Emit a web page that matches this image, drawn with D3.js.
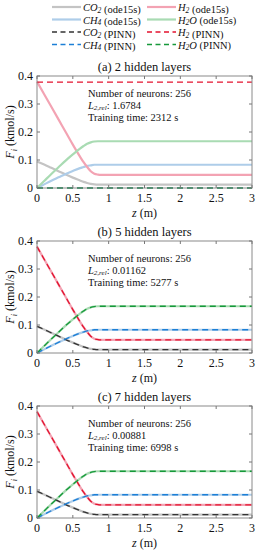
<!DOCTYPE html>
<html>
<head>
<meta charset="utf-8">
<script src="https://cdn.jsdelivr.net/npm/d3@7"></script>
<style>
  body { margin: 0; background: #fff; }
  svg text { font-family: "Liberation Serif", "DejaVu Serif", serif; fill: #111; }
</style>
</head>
<body>
<svg id="chart" width="265" height="550"></svg>
<script>
// axial position (m)
var zVals = [0, 0.1, 0.2, 0.3, 0.4, 0.5, 0.6, 0.65, 0.7, 0.75, 0.8, 0.85, 0.9, 1.0, 1.5, 2, 2.5, 3];

// ode15s reference solution (kmol/s)
var co2Ode = [0.095, 0.084, 0.072, 0.060, 0.048, 0.037, 0.027, 0.022, 0.018, 0.015, 0.013, 0.012, 0.012, 0.012, 0.012, 0.012, 0.012, 0.012];
var ch4Ode = [0, 0.013, 0.026, 0.038, 0.050, 0.061, 0.071, 0.075, 0.079, 0.081, 0.083, 0.083, 0.083, 0.083, 0.083, 0.083, 0.083, 0.083];
var h2Ode  = [0.380, 0.335, 0.290, 0.245, 0.200, 0.155, 0.112, 0.092, 0.075, 0.060, 0.051, 0.048, 0.047, 0.047, 0.047, 0.047, 0.047, 0.047];
var h2oOde = [0, 0.025, 0.050, 0.074, 0.098, 0.120, 0.141, 0.150, 0.158, 0.163, 0.166, 0.167, 0.167, 0.167, 0.167, 0.167, 0.167, 0.167];

// PINN, 2 hidden layers
var co2PinnA = [0.001, 0.001, 0.001, 0.001, 0.001, 0.001, 0.001, 0.001, 0.001, 0.001, 0.001, 0.001, 0.001, 0.001, 0.001, 0.001, 0.001, 0.001];
var ch4PinnA = [0, 0, 0, 0, 0, 0, 0, 0, 0, 0, 0, 0, 0, 0, 0, 0, 0, 0];
var h2PinnA  = [0.378, 0.378, 0.378, 0.378, 0.378, 0.378, 0.378, 0.378, 0.378, 0.378, 0.378, 0.378, 0.378, 0.378, 0.378, 0.378, 0.378, 0.378];
var h2oPinnA = [0, 0, 0, 0, 0, 0, 0, 0, 0, 0, 0, 0, 0, 0, 0, 0, 0, 0];

// PINN, 5 hidden layers
var co2PinnB = [0.095, 0.084, 0.072, 0.060, 0.048, 0.037, 0.027, 0.022, 0.018, 0.015, 0.013, 0.012, 0.012, 0.012, 0.012, 0.012, 0.012, 0.012];
var ch4PinnB = [0, 0.013, 0.026, 0.038, 0.050, 0.061, 0.071, 0.075, 0.079, 0.081, 0.083, 0.083, 0.083, 0.083, 0.083, 0.083, 0.083, 0.083];
var h2PinnB  = [0.380, 0.335, 0.290, 0.245, 0.200, 0.155, 0.112, 0.092, 0.075, 0.060, 0.051, 0.048, 0.047, 0.047, 0.047, 0.047, 0.047, 0.047];
var h2oPinnB = [0, 0.025, 0.050, 0.074, 0.098, 0.120, 0.141, 0.150, 0.158, 0.163, 0.166, 0.167, 0.167, 0.167, 0.167, 0.167, 0.167, 0.167];

// PINN, 7 hidden layers
var co2PinnC = [0.095, 0.084, 0.072, 0.060, 0.048, 0.037, 0.027, 0.022, 0.018, 0.015, 0.013, 0.012, 0.012, 0.012, 0.012, 0.012, 0.012, 0.012];
var ch4PinnC = [0, 0.013, 0.026, 0.038, 0.050, 0.061, 0.071, 0.075, 0.079, 0.081, 0.083, 0.083, 0.083, 0.083, 0.083, 0.083, 0.083, 0.083];
var h2PinnC  = [0.380, 0.335, 0.290, 0.245, 0.200, 0.155, 0.112, 0.092, 0.075, 0.060, 0.051, 0.048, 0.047, 0.047, 0.047, 0.047, 0.047, 0.047];
var h2oPinnC = [0, 0.025, 0.050, 0.074, 0.098, 0.120, 0.141, 0.150, 0.158, 0.163, 0.166, 0.167, 0.167, 0.167, 0.167, 0.167, 0.167, 0.167];

var panelTitles = ["(a) 2 hidden layers", "(b) 5 hidden layers", "(c) 7 hidden layers"];
var l2Values = ["1.6784", "0.01162", "0.00881"];
var trainTimes = ["2312", "5277", "6998"];
var neurons = 256;

var xTicks = [0, 0.5, 1, 1.5, 2, 2.5, 3];
var yTicks = [0, 0.1, 0.2, 0.3, 0.4];

var odeColors = { co2: "#c4c4c4", ch4: "#aecde9", h2: "#f3a3b3", h2o: "#a9dbb3" };
var pinnColors = { co2: "#333333", ch4: "#1c7fd6", h2: "#e3122e", h2o: "#16993a" };

var svg = d3.select("#chart");

var left = 37, right = 252;
var panelTops = [76, 241, 406];
var plotH = 112;

var x = d3.scaleLinear().domain([0, 3]).range([left, right]);

var pinnSets = [
  { co2: co2PinnA, ch4: ch4PinnA, h2: h2PinnA, h2o: h2oPinnA },
  { co2: co2PinnB, ch4: ch4PinnB, h2: h2PinnB, h2o: h2oPinnB },
  { co2: co2PinnC, ch4: ch4PinnC, h2: h2PinnC, h2o: h2oPinnC }
];
var odeSet = { co2: co2Ode, ch4: ch4Ode, h2: h2Ode, h2o: h2oOde };
var order = ["co2", "ch4", "h2", "h2o"];

panelTops.forEach(function (top, p) {
  var y = d3.scaleLinear().domain([0, 0.4]).range([top + plotH, top]);
  var g = svg.append("g");

  var line = d3.line()
    .x(function (d, i) { return x(zVals[i]); })
    .y(function (d) { return y(d); })
    .curve(d3.curveMonotoneX);

  // ode15s lines
  order.forEach(function (k) {
    g.append("path")
      .attr("d", line(odeSet[k]))
      .attr("fill", "none")
      .attr("stroke", odeColors[k])
      .attr("stroke-width", 2.2);
  });

  // PINN dashed lines
  order.forEach(function (k) {
    g.append("path")
      .attr("d", line(pinnSets[p][k]))
      .attr("fill", "none")
      .attr("stroke", pinnColors[k])
      .attr("stroke-width", 1.3)
      .attr("stroke-dasharray", "6,4");
  });

  // frame
  g.append("rect")
    .attr("x", left).attr("y", top)
    .attr("width", right - left).attr("height", plotH)
    .attr("fill", "none").attr("stroke", "#8a8a8a").attr("stroke-width", 1);

  // ticks inside on all sides
  xTicks.forEach(function (t) {
    g.append("line").attr("x1", x(t)).attr("x2", x(t))
      .attr("y1", top + plotH).attr("y2", top + plotH - 3)
      .attr("stroke", "#777");
    g.append("line").attr("x1", x(t)).attr("x2", x(t))
      .attr("y1", top).attr("y2", top + 3)
      .attr("stroke", "#777");
    g.append("text")
      .attr("x", x(t)).attr("y", top + plotH + 14)
      .attr("text-anchor", "middle")
      .attr("font-size", 12)
      .text(d3.format("~g")(t));
  });
  yTicks.forEach(function (t) {
    g.append("line").attr("x1", left).attr("x2", left + 3)
      .attr("y1", y(t)).attr("y2", y(t)).attr("stroke", "#777");
    g.append("line").attr("x1", right).attr("x2", right - 3)
      .attr("y1", y(t)).attr("y2", y(t)).attr("stroke", "#777");
    g.append("text")
      .attr("x", left - 4).attr("y", y(t) + 4)
      .attr("text-anchor", "end")
      .attr("font-size", 12)
      .text(d3.format("~g")(t));
  });

  // title
  g.append("text")
    .attr("x", (left + right) / 2).attr("y", top - 5)
    .attr("text-anchor", "middle")
    .attr("font-size", 12.5)
    .text(panelTitles[p]);

  // axis labels
  var xl = g.append("text")
    .attr("x", (left + right) / 2).attr("y", top + plotH + 29)
    .attr("text-anchor", "middle")
    .attr("font-size", 12);
  xl.append("tspan").attr("font-style", "italic").text("z");
  xl.append("tspan").text(" (m)");

  var yl = g.append("text")
    .attr("transform", "translate(14," + (top + plotH / 2) + ") rotate(-90)")
    .attr("text-anchor", "middle")
    .attr("font-size", 12);
  yl.append("tspan").attr("font-style", "italic").text("F");
  yl.append("tspan").attr("font-style", "italic").attr("font-size", 8.5).attr("dy", 3).text("i");
  yl.append("tspan").attr("dy", -3).text(" (kmol/s)");

  // info text
  var ix = 88, iy = top + 21, gap = 11.8;
  g.append("text").attr("x", ix).attr("y", iy).attr("font-size", 10.5)
    .text("Number of neurons:  " + neurons);
  var l2 = g.append("text").attr("x", ix).attr("y", iy + gap).attr("font-size", 10.5);
  l2.append("tspan").attr("font-style", "italic").text("L");
  l2.append("tspan").attr("font-style", "italic").attr("font-size", 7).attr("dy", 1).text("2,rel");
  l2.append("tspan").attr("dy", -1).text(": " + l2Values[p]);
  g.append("text").attr("x", ix).attr("y", iy + 2 * gap).attr("font-size", 10.5)
    .text("Training time: " + trainTimes[p] + " s");
});

// legend
var legendItems = [
  { k: "co2", sp: ["CO", "2", ""], src: "ode15s", dash: false, col: 0, row: 0 },
  { k: "h2", sp: ["H", "2", ""], src: "ode15s", dash: false, col: 1, row: 0 },
  { k: "ch4", sp: ["CH", "4", ""], src: "ode15s", dash: false, col: 0, row: 1 },
  { k: "h2o", sp: ["H", "2", "O"], src: "ode15s", dash: false, col: 1, row: 1 },
  { k: "co2", sp: ["CO", "2", ""], src: "PINN", dash: true, col: 0, row: 2 },
  { k: "h2", sp: ["H", "2", ""], src: "PINN", dash: true, col: 1, row: 2 },
  { k: "ch4", sp: ["CH", "4", ""], src: "PINN", dash: true, col: 0, row: 3 },
  { k: "h2o", sp: ["H", "2", "O"], src: "PINN", dash: true, col: 1, row: 3 }
];
var colX = [52, 147], rowY = [7, 19.5, 32, 44.5];

var leg = svg.selectAll(".legend")
  .data(legendItems)
  .enter().append("g")
  .attr("class", "legend")
  .attr("transform", function (d) { return "translate(" + colX[d.col] + "," + rowY[d.row] + ")"; });

leg.append("line")
  .attr("x1", 0).attr("x2", 29).attr("y1", 0).attr("y2", 0)
  .attr("stroke", function (d) { return d.dash ? pinnColors[d.k] : odeColors[d.k]; })
  .attr("stroke-width", function (d) { return d.dash ? 1.3 : 2.2; })
  .attr("stroke-dasharray", function (d) { return d.dash ? "5,3.5" : null; });

leg.each(function (d) {
  var t = d3.select(this).append("text")
    .attr("x", 31).attr("y", 4)
    .attr("font-size", 10.5);
  t.append("tspan").attr("font-style", "italic").text(d.sp[0]);
  t.append("tspan").attr("font-style", "italic").attr("font-size", 7.5).attr("dy", 1.5).text(d.sp[1]);
  t.append("tspan").attr("font-style", "italic").attr("dy", -1.5).text(d.sp[2]);
  t.append("tspan").text(" (" + d.src + ")");
});
</script>
</body>
</html>
